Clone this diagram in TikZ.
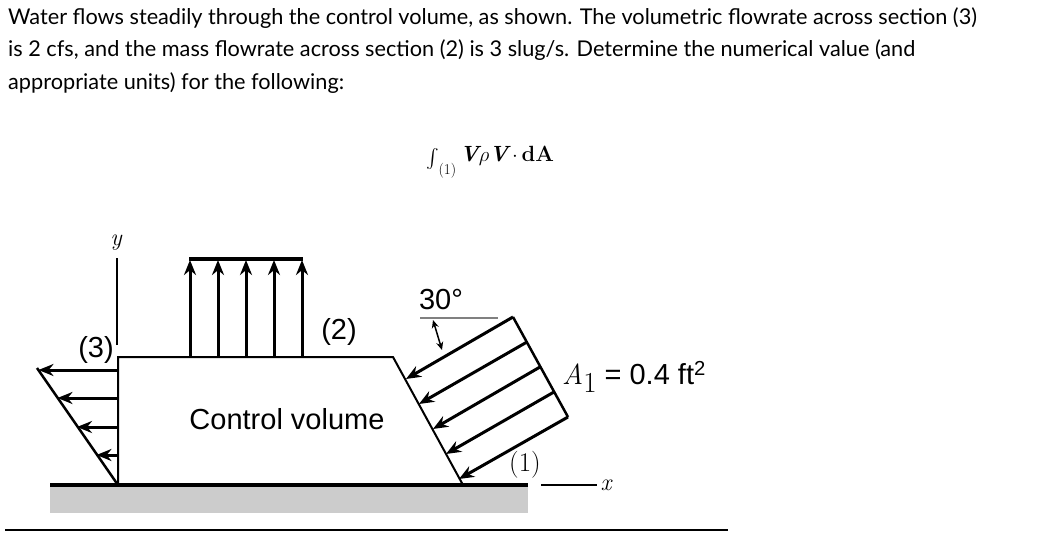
\documentclass[tikz,border=0pt]{standalone}
\usepackage{graphicx}
\usepackage{fontspec}
\setmainfont{Lato}
\newfontfamily\figfont{Liberation Sans}
\newfontfamily\lmr{Latin Modern Roman}
\usetikzlibrary{arrows.meta}
\begin{document}
\begin{tikzpicture}[x=1pt,y=-1pt,
  ar/.style={line width=3pt,-{Stealth[length=15pt,width=12pt]}},
  fl/.style={font=\figfont\fontsize{29}{32}\selectfont,inner sep=0pt},
  pt/.style={font=\fontsize{21.7}{26}\selectfont,anchor=west,inner sep=0pt}]
\useasboundingbox (0,0) rectangle (1053,551);
\node[pt] (t1) at (8,18) {Water flows steadily through the control volume, as shown. The volumetric flowrate across section (3)};
\node[pt] (t2) at (8,50) {is 2 cfs, and the mass flowrate across section (2) is 3 slug/s. Determine the numerical value (and};
\node[pt] (t3) at (8,83) {appropriate units) for the following:};
\node[inner sep=0pt] (eq) at (490,162) {\fontsize{22}{26}\selectfont\raisebox{-0.35em}{\scalebox{1.9}{$\int$}}\raisebox{-0.6em}{\lmr\fontsize{15}{16}\selectfont(1)}\,{\lmr\bfseries\itshape V}$\rho${\lmr\bfseries\itshape V}\,$\cdot$\,{\lmr\bfseries dA}};
% ground
\fill[gray!40] (50,487) rectangle (528,513);
\draw[line width=3.5pt] (50,485) -- (528,485);
% control volume
\coordinate (c1) at (118,485);
\coordinate (c2) at (118,357);
\coordinate (c3) at (393,357);
\coordinate (c4) at (463,485);
\draw[line width=2pt] (c1) -- (c2) -- (c3) -- (c4);
\node[fl] (cv) at (287,419) {Control volume};
% y axis
\coordinate (ya) at (117,345);
\coordinate (yb) at (117,258);
\draw[line width=2.5pt] (ya) -- (yb);
\node[inner sep=0pt,font=\lmr\itshape\fontsize{24}{26}\selectfont] (ylab) at (116,243) {y};
\node[fl] (l3) at (96,350) {(3)};
% left profile
\coordinate (p0) at (37,368);
\draw[line width=2.5pt] (p0) -- (c1);
\foreach \y/\x in {370/38.5,398/57.5,427/77,455/96.5}{
  \draw[ar] (118,\y) -- (\x,\y);}
% top arrows
\foreach \x in {190,218,246,274,302}{
  \draw[ar] (\x,357) -- (\x,260);}
\draw[line width=3.5pt] (189,259) -- (303,259);
\node[fl] (l2) at (339,332) {(2)};
% right arrows
\coordinate (r0) at (513,317);
\coordinate (r4) at (568,417);
\draw[line width=2.5pt] (r0) -- (r4);
\foreach \xa/\ya/\xb/\yb in {513/317/406/379,527/342/419/404,540/367/433/429,554/392/446/454,568/417/459/479}{
  \draw[ar] (\xa,\ya) -- (\xb,\yb);}
\draw[gray,line width=2pt] (420,318) -- (498,318);
\draw[line width=1.5pt,{Stealth[length=8pt,width=7pt]}-{Stealth[length=8pt,width=7pt]}] (433,320) -- (442,350);
\node[fl] (a30) at (441,300) {30\textdegree};
\node[fl,anchor=west] (a1) at (562,377) {{\lmr\itshape A}\raisebox{-0.25em}{\lmr 1} = 0.4 ft\textsuperscript{2}};
\node[inner sep=0pt,font=\lmr\fontsize{27}{30}\selectfont] (l1) at (525,465) {(1)};
% x axis
\draw[line width=2.5pt] (541,485) -- (597,485);
\node[inner sep=0pt,font=\lmr\itshape\fontsize{24}{26}\selectfont] (xlab) at (606,485) {x};
% bottom rule
\draw[line width=1.5pt] (5,530) -- (728,530);
\end{tikzpicture}
\end{document}
